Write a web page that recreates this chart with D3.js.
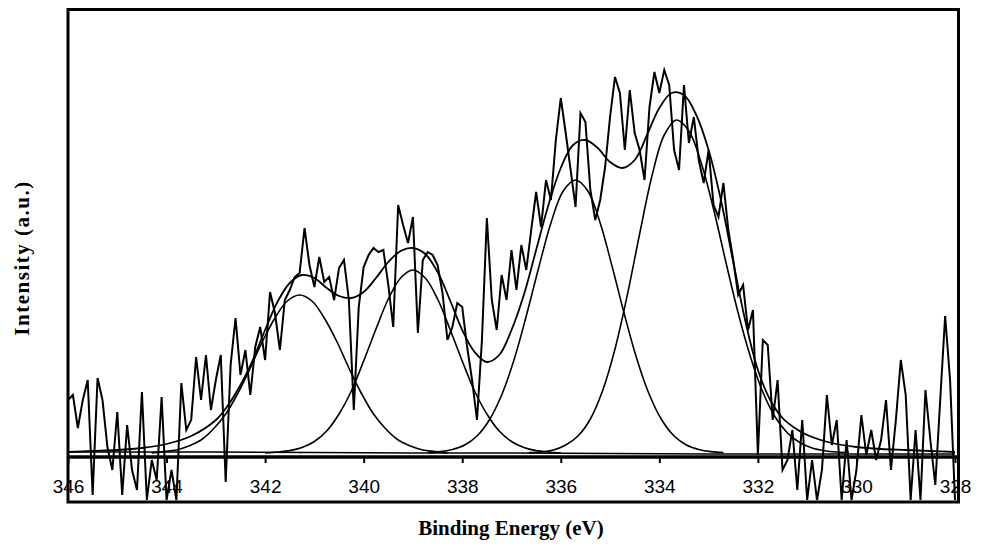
<!DOCTYPE html>
<html>
<head>
<meta charset="utf-8">
<script src="https://cdn.jsdelivr.net/npm/d3@7"></script>
<style>
  html, body { margin: 0; padding: 0; background: #fff; }
  svg { display: block; }
</style>
</head>
<body>
<svg id="chart"></svg>
<script>
// ---- data (intensity in arbitrary units) ----
const xTicks = [346, 344, 342, 340, 338, 336, 334, 332, 330, 328];

// raw spectrum, 0.1 eV step starting at 346 eV
const rawStart = 346;
const rawStep = 0.1;
const rawIntensity = [
  57, 62, 29, 57, 77, -38, 79, 57, 10, -13,
  45, -38, 32, -13, -33, 65, -43, -3, -23, 60,
  -43, -13, -43, 74, 27, 37, 100, 57, 102, 47,
  77, 102, -25, 92, 139, 82, 107, 62, 110, 130,
  97, 165, 144, 107, 157, 167, 180, 184, 229, 192,
  170, 200, 175, 180, 157, 189, 197, 157, 47, 150,
  190, 202, 209, 205, 207, 172, 130, 252, 232, 214,
  240, 124, 197, 205, 202, 192, 164, 117, 130, 154,
  150, 110, 77, 37, 117, 239, 157, 127, 182, 157,
  207, 167, 212, 187, 227, 265, 230, 277, 257, 317,
  359, 324, 287, 250, 344, 335, 267, 237, 257, 290,
  340, 380, 364, 307, 367, 324, 307, 277, 350, 385,
  364, 387, 372, 307, 287, 372, 314, 340, 297, 274,
  307, 252, 240, 274, 227, 197, 162, 172, 127, 147,
  2, 117, 112, 37, 77, -13, -3, 27, -33, 37,
  -43, -3, -43, -13, 62, 12, 37, -43, 17, -43,
  -13, 42, 2, 27, -3, 17, 57, -13, 37, 97,
  62, -43, 27, -43, 67, 17, -28, 57, 141, 77,
  -43
];

// fitted components [binding energy, intensity]
const peak1 = [
  [344.3, 4], [344.05, 5.5], [343.8, 7], [343.55, 11], [343.3, 17], [343.05, 28],
  [342.8, 43], [342.55, 64], [342.3, 89], [342.05, 116], [341.8, 139], [341.55, 156],
  [341.3, 162], [341.05, 156], [340.8, 139], [340.55, 116], [340.3, 89], [340.05, 64],
  [339.8, 43], [339.55, 28], [339.3, 17], [339.05, 11], [338.8, 7], [338.55, 5.5], [338.3, 4]
];
const peak2 = [
  [342.0, 4], [341.75, 5], [341.5, 6.4], [341.25, 9.5], [341.0, 15.5], [340.75, 26],
  [340.5, 43], [340.25, 66], [340.0, 96], [339.75, 128], [339.5, 158], [339.25, 179],
  [339.0, 187], [338.75, 179], [338.5, 158], [338.25, 128], [338.0, 96], [337.75, 66],
  [337.5, 43], [337.25, 26], [337.0, 15.5], [336.75, 9.5], [336.5, 6.4], [336.25, 5], [336.0, 4]
];
const peak3 = [
  [338.7, 4.5], [338.45, 5.4], [338.2, 7.6], [337.95, 12], [337.7, 21], [337.45, 37],
  [337.2, 62], [336.95, 97], [336.7, 141], [336.45, 189], [336.2, 234], [335.95, 266],
  [335.7, 277], [335.45, 266], [335.2, 234], [334.95, 189], [334.7, 141], [334.45, 97],
  [334.2, 62], [333.95, 37], [333.7, 21], [333.45, 12], [333.2, 7.6], [332.95, 5.4], [332.7, 4.5]
];
const peak4 = [
  [336.65, 4.4], [336.4, 5], [336.15, 7], [335.9, 12], [335.65, 21], [335.4, 38],
  [335.15, 66.5], [334.9, 108], [334.65, 162], [334.4, 223], [334.15, 281], [333.9, 322],
  [333.65, 337], [333.4, 326], [333.15, 294], [332.9, 248], [332.65, 195], [332.4, 144],
  [332.15, 100], [331.9, 65], [331.65, 40], [331.4, 24], [331.15, 14.5], [330.9, 9],
  [330.65, 6.3], [330.4, 5], [330.15, 4.5]
];
const envelope = [
  [346.0, 5], [345.5, 6], [345.0, 7], [344.5, 9], [344.0, 13], [343.5, 21], [343.0, 37],
  [342.75, 52], [342.5, 72], [342.25, 97], [342.0, 127], [341.75, 155], [341.5, 174],
  [341.25, 182], [341.0, 179], [340.75, 169], [340.5, 161], [340.25, 159], [340.0, 165],
  [339.75, 179], [339.5, 195], [339.25, 206], [339.0, 209], [338.75, 203], [338.5, 185],
  [338.25, 157], [338.0, 127], [337.75, 105], [337.5, 95], [337.25, 102], [337.0, 127],
  [336.75, 162], [336.5, 207], [336.25, 252], [336.0, 289], [335.75, 312], [335.5, 317],
  [335.25, 309], [335.0, 295], [334.75, 289], [334.5, 297], [334.25, 322], [334.0, 349],
  [333.75, 364], [333.5, 362], [333.25, 342], [333.0, 307], [332.75, 257], [332.5, 195],
  [332.25, 135], [332.0, 87], [331.75, 57], [331.5, 39], [331.25, 29], [331.0, 22],
  [330.5, 14], [330.0, 10], [329.5, 8], [329.0, 7], [328.5, 6], [328.0, 5]
];
const background = [
  [346.0, 5], [343.0, 5], [341.0, 4.5], [339.0, 4], [337.0, 4], [335.0, 3.5], [333.0, 3], [328.0, 3]
];

// ---- layout ----
const width = 984;
const height = 555;
const frame = { left: 68, top: 9.5, right: 958.5, bottom: 502 };

const svg = d3.select('#chart')
  .attr('width', width)
  .attr('height', height);

const x = d3.scaleLinear().domain([346, 328]).range([68, 955]);
const y = d3.scaleLinear().domain([0, 448]).range([457, 9]);

svg.append('defs').append('clipPath')
  .attr('id', 'plot-clip')
  .append('rect')
  .attr('x', frame.left)
  .attr('y', frame.top)
  .attr('width', frame.right - frame.left)
  .attr('height', frame.bottom - frame.top);

const plot = svg.append('g').attr('clip-path', 'url(#plot-clip)');

const smooth = d3.line()
  .x(d => x(d[0]))
  .y(d => y(d[1]))
  .curve(d3.curveCatmullRom);

// background
plot.append('path')
  .datum(background)
  .attr('fill', 'none')
  .attr('stroke', '#000')
  .attr('stroke-width', 1.6)
  .attr('d', d3.line().x(d => x(d[0])).y(d => y(d[1])));

// components
[peak1, peak2, peak3, peak4].forEach(pk => {
  plot.append('path')
    .datum(pk)
    .attr('fill', 'none')
    .attr('stroke', '#000')
    .attr('stroke-width', 1.6)
    .attr('d', smooth);
});

// envelope
plot.append('path')
  .datum(envelope)
  .attr('fill', 'none')
  .attr('stroke', '#000')
  .attr('stroke-width', 1.8)
  .attr('d', smooth);

// raw data
const rawPoints = rawIntensity.map((v, i) => [rawStart - i * rawStep, v]);
plot.append('path')
  .datum(rawPoints)
  .attr('fill', 'none')
  .attr('stroke', '#000')
  .attr('stroke-width', 2)
  .attr('stroke-linejoin', 'miter')
  .attr('d', d3.line().x(d => x(d[0])).y(d => y(d[1])));

// x axis
const xAxis = svg.append('g')
  .attr('transform', `translate(0, ${y(0)})`)
  .call(d3.axisBottom(x)
    .tickValues(xTicks)
    .tickSize(6)
    .tickSizeOuter(0)
    .tickPadding(17)
    .tickFormat(d3.format('d')));

xAxis.select('.domain').remove();
xAxis.selectAll('.tick line')
  .attr('stroke', '#000')
  .attr('stroke-width', 2);
xAxis.selectAll('.tick text')
  .attr('fill', '#000')
  .style('font-family', '"Liberation Sans", Arial, sans-serif')
  .style('font-size', '19px');

svg.append('line')
  .attr('x1', frame.left)
  .attr('x2', frame.right)
  .attr('y1', y(0))
  .attr('y2', y(0))
  .attr('stroke', '#000')
  .attr('stroke-width', 3.5);

// frame
svg.append('rect')
  .attr('x', frame.left)
  .attr('y', frame.top)
  .attr('width', frame.right - frame.left)
  .attr('height', frame.bottom - frame.top)
  .attr('fill', 'none')
  .attr('stroke', '#000')
  .attr('stroke-width', 3);

// axis titles
svg.append('text')
  .attr('x', 511)
  .attr('y', 535)
  .attr('text-anchor', 'middle')
  .style('font-family', '"Liberation Serif", "Times New Roman", serif')
  .style('font-weight', 'bold')
  .style('font-size', '21px')
  .text('Binding Energy (eV)');

svg.append('text')
  .attr('transform', 'translate(29, 258) rotate(-90)')
  .attr('text-anchor', 'middle')
  .style('font-family', '"Liberation Serif", "Times New Roman", serif')
  .style('font-weight', 'bold')
  .style('font-size', '21px')
  .style('letter-spacing', '1.5px')
  .text('Intensity (a.u.)');
</script>
</body>
</html>
